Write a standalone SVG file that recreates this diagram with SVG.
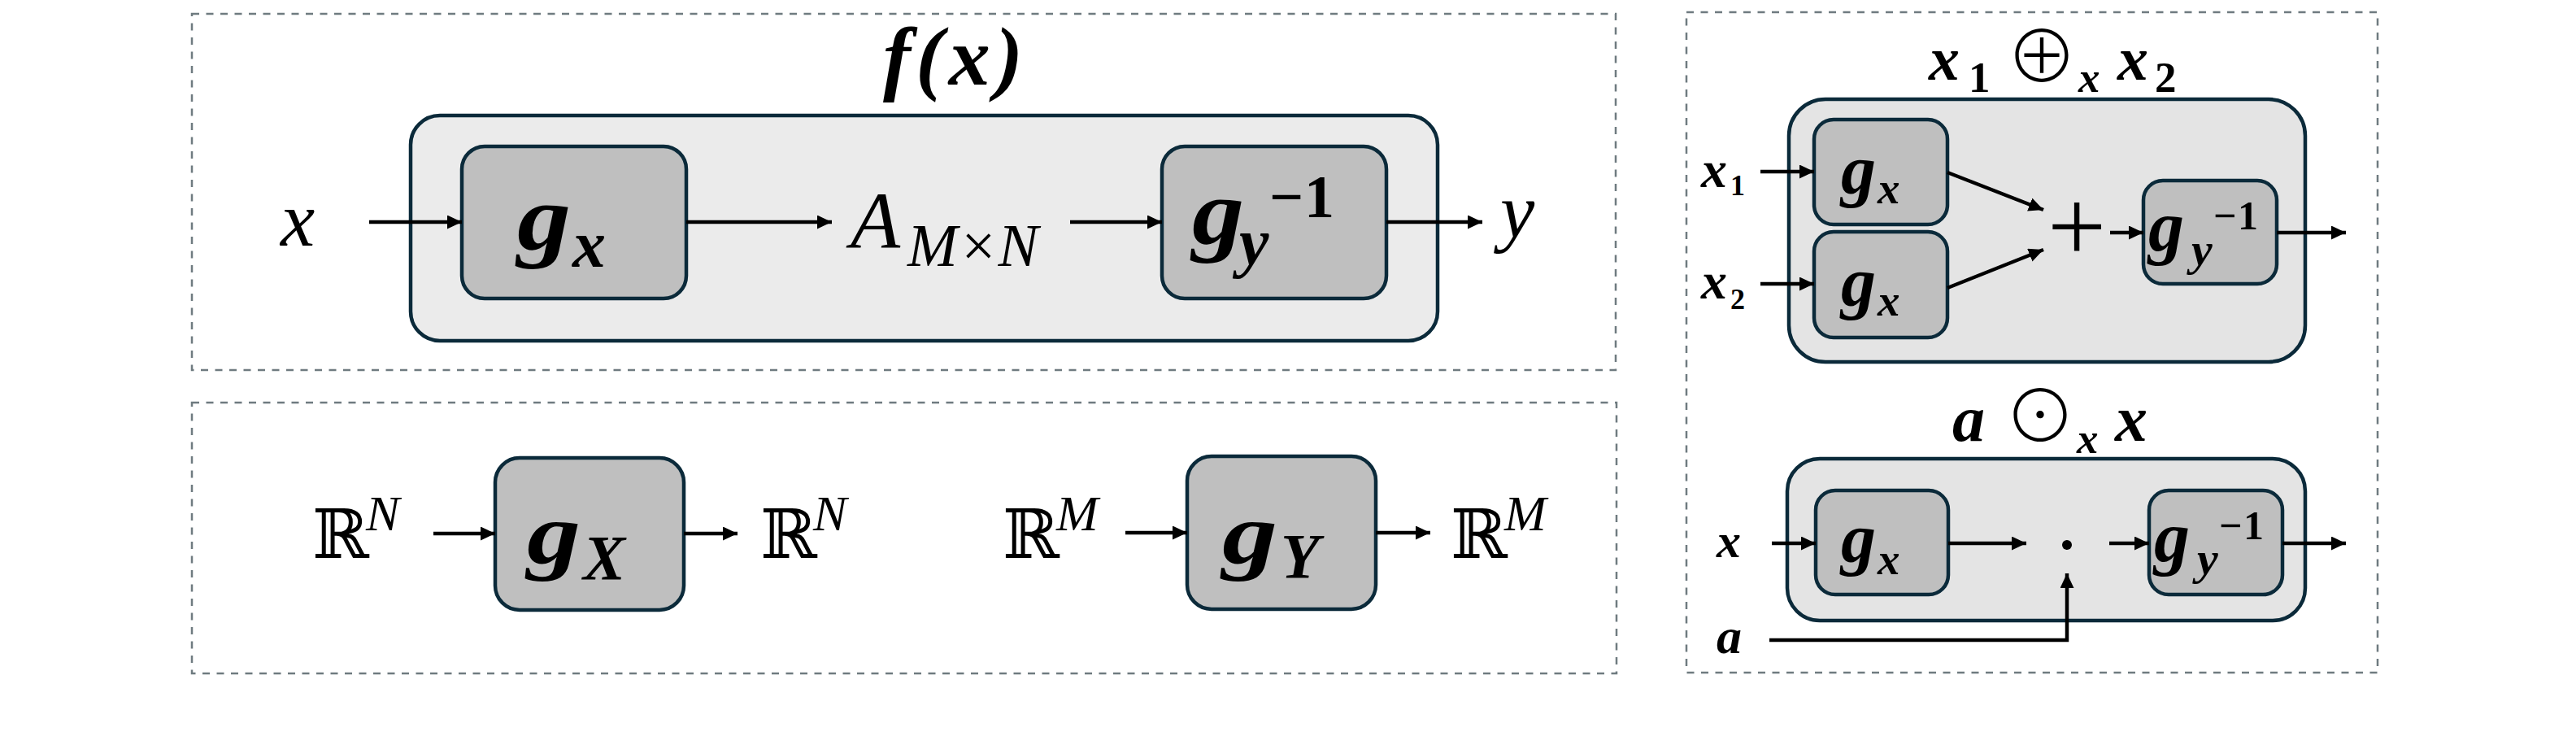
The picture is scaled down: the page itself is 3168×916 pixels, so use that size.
<svg xmlns="http://www.w3.org/2000/svg" width="3168" height="916" viewBox="0 0 3168 916">
<defs>
<style>
.dash{fill:none;stroke:#6f7b80;stroke-width:2.5;stroke-dasharray:9 8.5}
.outer{fill:#ebebeb;stroke:#0b2a3a;stroke-width:4.5}
.outer2{fill:#e4e4e4;stroke:#0b2a3a;stroke-width:4.5}
.inner{fill:#bfbfbf;stroke:#0b2a3a;stroke-width:4.5}
.arr{fill:none;stroke:#000;stroke-width:4.5;marker-end:url(#ah)}
text{font-family:"Liberation Serif","DejaVu Serif",serif;fill:#000}
.it{font-style:italic}
.bi{font-style:italic;font-weight:bold}
.b{font-weight:bold;font-style:normal}
.bb{font-family:"DejaVu Serif","DejaVu Sans",serif;font-style:normal}
.sym{font-family:"Noto Sans CJK SC","DejaVu Sans",sans-serif;font-weight:300;font-style:normal}
</style>
<marker id="ah" markerUnits="userSpaceOnUse" markerWidth="20" markerHeight="18" refX="18" refY="8.5" orient="auto">
<path d="M0,0 L18,8.5 L0,17 z" fill="#000"/>
</marker>
</defs>
<rect width="3168" height="916" fill="#fff"/>

<g id="panels">
<rect class="dash" x="236" y="17" width="1751" height="438"/>
<rect class="dash" x="236" y="495" width="1752" height="333"/>
<rect class="dash" x="2074" y="15" width="850" height="812"/>
</g>

<!-- top-left: f(x) -->
<g id="f-block">
<rect class="outer" x="505" y="142" width="1263" height="277" rx="36"/>
<text class="bi" x="1086" y="104" font-size="102" textLength="172" lengthAdjust="spacing">f(x)</text>
</g>
<g id="in-x"><text class="it" x="345" y="302" font-size="95">x</text></g>
<g id="gx-top">
<rect class="inner" x="568" y="180" width="276" height="187" rx="28"/>
<text class="bi" x="636" y="307" font-size="114" textLength="66" lengthAdjust="spacingAndGlyphs">g</text>
<text class="bi" x="704" y="328" font-size="82">x</text>
</g>
<g id="matrix-A">
<text class="it"><tspan x="1046" y="305" font-size="100">A</tspan><tspan x="1116" y="327" font-size="74">M×N</tspan></text>
</g>
<g id="gyinv-top">
<rect class="inner" x="1429" y="180" width="276" height="187" rx="28"/>
<text class="bi" x="1466" y="300" font-size="114" textLength="64" lengthAdjust="spacingAndGlyphs">g</text>
<text class="bi"><tspan x="1524" y="325" font-size="82">y</tspan><tspan class="b" x="1561" y="267" font-size="74">−</tspan><tspan class="b" x="1604" y="267" font-size="74">1</tspan></text>
</g>
<g id="out-y"><text class="it" x="1845" y="292" font-size="95">y</text></g>

<!-- bottom-left -->
<g id="RN-in">
<text><tspan class="bb" x="384" y="686" font-size="84">ℝ</tspan><tspan class="it" x="450" y="652" font-size="62">N</tspan></text>
</g>
<g id="gX">
<rect class="inner" x="609" y="563" width="232" height="187" rx="30"/>
<text class="bi" x="648" y="692" font-size="106" textLength="66" lengthAdjust="spacingAndGlyphs">g</text>
<text class="bi" x="717" y="712" font-size="78">X</text>
</g>
<g id="RN-out">
<text><tspan class="bb" x="935" y="686" font-size="84">ℝ</tspan><tspan class="it" x="1000" y="652" font-size="62">N</tspan></text>
</g>
<g id="RM-in">
<text><tspan class="bb" x="1233" y="686" font-size="84">ℝ</tspan><tspan class="it" x="1299" y="652" font-size="62">M</tspan></text>
</g>
<g id="gY">
<rect class="inner" x="1460" y="561" width="232" height="188" rx="30"/>
<text class="bi" x="1503" y="692" font-size="106" textLength="68" lengthAdjust="spacingAndGlyphs">g</text>
<text class="bi" x="1575" y="710" font-size="78">Y</text>
</g>
<g id="RM-out">
<text><tspan class="bb" x="1784" y="686" font-size="84">ℝ</tspan><tspan class="it" x="1850" y="652" font-size="62">M</tspan></text>
</g>

<!-- right top: addition -->
<g id="add-block">
<rect class="outer2" x="2200" y="122" width="635" height="323" rx="45"/>
<text class="bi"><tspan x="2372" y="98" font-size="76">x</tspan><tspan class="b" x="2421" y="113" font-size="53">1</tspan><tspan class="sym" x="2511" y="101" font-size="88" text-anchor="middle">⊕</tspan><tspan x="2556" y="113" font-size="53">x</tspan><tspan x="2604" y="98" font-size="76">x</tspan><tspan class="b" x="2650" y="113" font-size="53">2</tspan></text>
</g>
<g id="in-x1">
<text class="bi"><tspan x="2092" y="230" font-size="64">x</tspan><tspan class="b" x="2128" y="240" font-size="36">1</tspan></text>
</g>
<g id="in-x2">
<text class="bi"><tspan x="2092" y="367" font-size="64">x</tspan><tspan class="b" x="2128" y="380" font-size="36">2</tspan></text>
</g>
<g id="gx-add1">
<rect class="inner" x="2231" y="147" width="164" height="129" rx="24"/>
<text class="bi"><tspan x="2264" y="237" font-size="86">g</tspan><tspan x="2309" y="250" font-size="55">x</tspan></text>
</g>
<g id="gx-add2">
<rect class="inner" x="2231" y="285" width="164" height="130" rx="24"/>
<text class="bi"><tspan x="2264" y="375" font-size="86">g</tspan><tspan x="2309" y="388" font-size="55">x</tspan></text>
</g>
<g id="plus"><text x="2554" y="321" font-size="128" text-anchor="middle">+</text></g>
<g id="gyinv-add">
<rect class="inner" x="2636" y="222" width="164" height="127" rx="24"/>
<text class="bi"><tspan x="2642" y="308" font-size="88">g</tspan><tspan x="2695" y="326" font-size="58">y</tspan><tspan class="b" x="2722" y="282" font-size="50">−</tspan><tspan class="b" x="2752" y="282" font-size="50">1</tspan></text>
</g>

<!-- right bottom: scalar multiplication -->
<g id="mul-block">
<rect class="outer2" x="2198" y="564" width="637" height="199" rx="40"/>
<text class="bi"><tspan x="2401" y="542" font-size="80">a</tspan><tspan class="sym" x="2509" y="543" font-size="88" text-anchor="middle">⊙</tspan><tspan x="2554" y="557" font-size="53">x</tspan><tspan x="2601" y="542" font-size="80">x</tspan></text>
</g>
<g id="in-x-mul"><text class="bi" x="2111" y="685" font-size="60">x</text></g>
<g id="in-a"><text class="bi" x="2111" y="803" font-size="62">a</text></g>
<g id="gx-mul">
<rect class="inner" x="2233" y="603" width="163" height="128" rx="24"/>
<text class="bi"><tspan x="2264" y="690" font-size="86">g</tspan><tspan x="2309" y="706" font-size="55">x</tspan></text>
</g>
<g id="dot"><circle cx="2542" cy="670" r="6" fill="#000"/></g>
<g id="gyinv-mul">
<rect class="inner" x="2643" y="603" width="164" height="128" rx="24"/>
<text class="bi"><tspan x="2649" y="690" font-size="88">g</tspan><tspan x="2702" y="706" font-size="58">y</tspan><tspan class="b" x="2729" y="663" font-size="50">−</tspan><tspan class="b" x="2759" y="663" font-size="50">1</tspan></text>
</g>

<g id="connectors">
<line class="arr" x1="454" y1="273" x2="568" y2="273"/>
<line class="arr" x1="844" y1="273" x2="1023" y2="273"/>
<line class="arr" x1="1316" y1="273" x2="1429" y2="273"/>
<line class="arr" x1="1705" y1="273" x2="1823" y2="273"/>
<line class="arr" x1="533" y1="656" x2="609" y2="656"/>
<line class="arr" x1="841" y1="656" x2="907" y2="656"/>
<line class="arr" x1="1384" y1="655" x2="1460" y2="655"/>
<line class="arr" x1="1692" y1="655" x2="1759" y2="655"/>
<line class="arr" x1="2165" y1="211" x2="2231" y2="211"/>
<line class="arr" x1="2165" y1="349" x2="2231" y2="349"/>
<line class="arr" x1="2395" y1="212" x2="2513" y2="258"/>
<line class="arr" x1="2395" y1="354" x2="2513" y2="307"/>
<line class="arr" x1="2595" y1="286" x2="2636" y2="286"/>
<line class="arr" x1="2800" y1="286" x2="2885" y2="286"/>
<line class="arr" x1="2179" y1="668" x2="2233" y2="668"/>
<line class="arr" x1="2396" y1="668" x2="2492" y2="668"/>
<line class="arr" x1="2594" y1="668" x2="2643" y2="668"/>
<line class="arr" x1="2807" y1="668" x2="2885" y2="668"/>
<polyline class="arr" points="2176,787 2542,787 2542,705"/>
</g>
</svg>
